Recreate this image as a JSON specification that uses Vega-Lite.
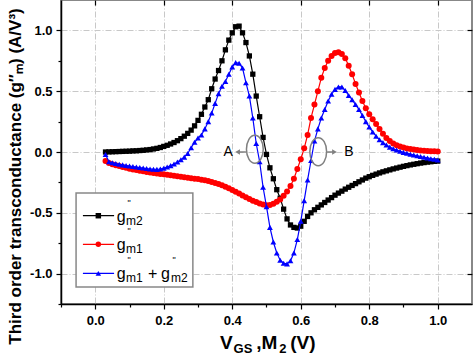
{
"$schema":"https://vega.github.io/schema/vega-lite/v6.json",
"width":411,"height":304,
"autosize":"none",
"padding":{"left":61,"top":0,"right":2,"bottom":51},
"background":"white",
"config":{"view":{"stroke":"#888888","strokeWidth":2},"font":"Liberation Sans","axis":{"labelFont":"Liberation Sans","titleFont":"Liberation Sans"}},
"datasets":{
"m2":[
{"x":0.03,"y":0},{"x":0.04,"y":0.001},{"x":0.05,"y":0.002},{"x":0.06,"y":0.003},{"x":0.07,"y":0.004},{"x":0.08,"y":0.005},{"x":0.09,"y":0.006},{"x":0.10,"y":0.007},{"x":0.11,"y":0.009},{"x":0.12,"y":0.010},{"x":0.13,"y":0.012},{"x":0.14,"y":0.014},{"x":0.15,"y":0.017},{"x":0.16,"y":0.020},{"x":0.17,"y":0.025},{"x":0.18,"y":0.030},{"x":0.19,"y":0.037},{"x":0.20,"y":0.046},{"x":0.21,"y":0.055},{"x":0.22,"y":0.066},{"x":0.23,"y":0.078},{"x":0.24,"y":0.093},{"x":0.25,"y":0.110},{"x":0.26,"y":0.130},{"x":0.27,"y":0.153},{"x":0.28,"y":0.180},{"x":0.29,"y":0.215},{"x":0.30,"y":0.26},{"x":0.31,"y":0.31},{"x":0.32,"y":0.37},{"x":0.33,"y":0.43},{"x":0.34,"y":0.52},{"x":0.35,"y":0.60},{"x":0.36,"y":0.67},{"x":0.37,"y":0.75},{"x":0.38,"y":0.84},{"x":0.39,"y":0.92},{"x":0.40,"y":0.98},{"x":0.41,"y":1.03},{"x":0.42,"y":1.035},{"x":0.43,"y":0.98},{"x":0.44,"y":0.90},{"x":0.45,"y":0.79},{"x":0.46,"y":0.64},{"x":0.47,"y":0.46},{"x":0.48,"y":0.29},{"x":0.49,"y":0.12},{"x":0.50,"y":-0.02},{"x":0.51,"y":-0.13},{"x":0.52,"y":-0.22},{"x":0.53,"y":-0.31},{"x":0.54,"y":-0.38},{"x":0.55,"y":-0.47},{"x":0.56,"y":-0.55},{"x":0.57,"y":-0.60},{"x":0.58,"y":-0.62},{"x":0.59,"y":-0.625},{"x":0.60,"y":-0.61},{"x":0.61,"y":-0.57},{"x":0.62,"y":-0.53},{"x":0.63,"y":-0.50},{"x":0.64,"y":-0.475},{"x":0.65,"y":-0.455},{"x":0.66,"y":-0.435},{"x":0.67,"y":-0.415},{"x":0.68,"y":-0.395},{"x":0.69,"y":-0.375},{"x":0.70,"y":-0.355},{"x":0.71,"y":-0.338},{"x":0.72,"y":-0.322},{"x":0.73,"y":-0.305},{"x":0.74,"y":-0.29},{"x":0.75,"y":-0.275},{"x":0.76,"y":-0.26},{"x":0.77,"y":-0.245},{"x":0.78,"y":-0.23},{"x":0.79,"y":-0.215},{"x":0.80,"y":-0.203},{"x":0.81,"y":-0.192},{"x":0.82,"y":-0.182},{"x":0.83,"y":-0.172},{"x":0.84,"y":-0.163},{"x":0.85,"y":-0.155},{"x":0.86,"y":-0.147},{"x":0.87,"y":-0.139},{"x":0.88,"y":-0.132},{"x":0.89,"y":-0.125},{"x":0.90,"y":-0.118},{"x":0.91,"y":-0.112},{"x":0.92,"y":-0.106},{"x":0.93,"y":-0.101},{"x":0.94,"y":-0.096},{"x":0.95,"y":-0.091},{"x":0.96,"y":-0.087},{"x":0.97,"y":-0.083},{"x":0.98,"y":-0.080},{"x":0.99,"y":-0.077},{"x":1.00,"y":-0.075}
],
"m1":[
{"x":0.03,"y":-0.075},{"x":0.04,"y":-0.09},{"x":0.05,"y":-0.10},{"x":0.06,"y":-0.108},{"x":0.07,"y":-0.116},{"x":0.08,"y":-0.123},{"x":0.09,"y":-0.130},{"x":0.10,"y":-0.137},{"x":0.11,"y":-0.143},{"x":0.12,"y":-0.149},{"x":0.13,"y":-0.154},{"x":0.14,"y":-0.159},{"x":0.15,"y":-0.164},{"x":0.16,"y":-0.168},{"x":0.17,"y":-0.172},{"x":0.18,"y":-0.176},{"x":0.19,"y":-0.180},{"x":0.20,"y":-0.184},{"x":0.21,"y":-0.188},{"x":0.22,"y":-0.192},{"x":0.23,"y":-0.196},{"x":0.24,"y":-0.200},{"x":0.25,"y":-0.204},{"x":0.26,"y":-0.207},{"x":0.27,"y":-0.211},{"x":0.28,"y":-0.215},{"x":0.29,"y":-0.219},{"x":0.30,"y":-0.223},{"x":0.31,"y":-0.228},{"x":0.32,"y":-0.233},{"x":0.33,"y":-0.239},{"x":0.34,"y":-0.246},{"x":0.35,"y":-0.254},{"x":0.36,"y":-0.263},{"x":0.37,"y":-0.273},{"x":0.38,"y":-0.285},{"x":0.39,"y":-0.298},{"x":0.40,"y":-0.312},{"x":0.41,"y":-0.327},{"x":0.42,"y":-0.342},{"x":0.43,"y":-0.357},{"x":0.44,"y":-0.372},{"x":0.45,"y":-0.387},{"x":0.46,"y":-0.400},{"x":0.47,"y":-0.412},{"x":0.48,"y":-0.423},{"x":0.49,"y":-0.432},{"x":0.50,"y":-0.438},{"x":0.51,"y":-0.436},{"x":0.52,"y":-0.425},{"x":0.53,"y":-0.41},{"x":0.54,"y":-0.39},{"x":0.55,"y":-0.36},{"x":0.56,"y":-0.325},{"x":0.57,"y":-0.28},{"x":0.58,"y":-0.22},{"x":0.59,"y":-0.14},{"x":0.60,"y":-0.06},{"x":0.61,"y":0.03},{"x":0.62,"y":0.14},{"x":0.63,"y":0.28},{"x":0.64,"y":0.39},{"x":0.65,"y":0.50},{"x":0.66,"y":0.61},{"x":0.67,"y":0.69},{"x":0.68,"y":0.75},{"x":0.69,"y":0.79},{"x":0.70,"y":0.815},{"x":0.71,"y":0.82},{"x":0.72,"y":0.805},{"x":0.73,"y":0.77},{"x":0.74,"y":0.71},{"x":0.75,"y":0.64},{"x":0.76,"y":0.56},{"x":0.77,"y":0.49},{"x":0.78,"y":0.42},{"x":0.79,"y":0.36},{"x":0.80,"y":0.31},{"x":0.81,"y":0.27},{"x":0.82,"y":0.23},{"x":0.83,"y":0.19},{"x":0.84,"y":0.15},{"x":0.85,"y":0.115},{"x":0.86,"y":0.09},{"x":0.87,"y":0.07},{"x":0.88,"y":0.056},{"x":0.89,"y":0.045},{"x":0.90,"y":0.036},{"x":0.91,"y":0.029},{"x":0.92,"y":0.024},{"x":0.93,"y":0.02},{"x":0.94,"y":0.016},{"x":0.95,"y":0.013},{"x":0.96,"y":0.011},{"x":0.97,"y":0.009},{"x":0.98,"y":0.007},{"x":0.99,"y":0.006},{"x":1.00,"y":0.005}
],
"sum":[
{"x":0.03,"y":-0.02},{"x":0.04,"y":-0.08},{"x":0.05,"y":-0.088},{"x":0.06,"y":-0.095},{"x":0.07,"y":-0.101},{"x":0.08,"y":-0.106},{"x":0.09,"y":-0.111},{"x":0.10,"y":-0.115},{"x":0.11,"y":-0.119},{"x":0.12,"y":-0.124},{"x":0.13,"y":-0.128},{"x":0.14,"y":-0.132},{"x":0.15,"y":-0.136},{"x":0.16,"y":-0.139},{"x":0.17,"y":-0.142},{"x":0.18,"y":-0.143},{"x":0.19,"y":-0.140},{"x":0.20,"y":-0.133},{"x":0.21,"y":-0.124},{"x":0.22,"y":-0.112},{"x":0.23,"y":-0.099},{"x":0.24,"y":-0.083},{"x":0.25,"y":-0.064},{"x":0.26,"y":-0.042},{"x":0.27,"y":-0.012},{"x":0.28,"y":0.035},{"x":0.29,"y":0.08},{"x":0.30,"y":0.115},{"x":0.31,"y":0.14},{"x":0.32,"y":0.19},{"x":0.33,"y":0.25},{"x":0.34,"y":0.32},{"x":0.35,"y":0.40},{"x":0.36,"y":0.48},{"x":0.37,"y":0.54},{"x":0.38,"y":0.58},{"x":0.39,"y":0.64},{"x":0.40,"y":0.70},{"x":0.41,"y":0.735},{"x":0.42,"y":0.73},{"x":0.43,"y":0.69},{"x":0.44,"y":0.57},{"x":0.45,"y":0.46},{"x":0.46,"y":0.28},{"x":0.47,"y":0.07},{"x":0.48,"y":-0.08},{"x":0.49,"y":-0.29},{"x":0.50,"y":-0.45},{"x":0.51,"y":-0.62},{"x":0.52,"y":-0.74},{"x":0.53,"y":-0.83},{"x":0.54,"y":-0.89},{"x":0.55,"y":-0.915},{"x":0.56,"y":-0.92},{"x":0.57,"y":-0.895},{"x":0.58,"y":-0.83},{"x":0.59,"y":-0.72},{"x":0.60,"y":-0.57},{"x":0.61,"y":-0.40},{"x":0.62,"y":-0.23},{"x":0.63,"y":-0.07},{"x":0.64,"y":0.09},{"x":0.65,"y":0.19},{"x":0.66,"y":0.28},{"x":0.67,"y":0.35},{"x":0.68,"y":0.42},{"x":0.69,"y":0.475},{"x":0.70,"y":0.515},{"x":0.71,"y":0.535},{"x":0.72,"y":0.535},{"x":0.73,"y":0.505},{"x":0.74,"y":0.465},{"x":0.75,"y":0.43},{"x":0.76,"y":0.39},{"x":0.77,"y":0.35},{"x":0.78,"y":0.30},{"x":0.79,"y":0.25},{"x":0.80,"y":0.205},{"x":0.81,"y":0.165},{"x":0.82,"y":0.13},{"x":0.83,"y":0.10},{"x":0.84,"y":0.077},{"x":0.85,"y":0.057},{"x":0.86,"y":0.04},{"x":0.87,"y":0.027},{"x":0.88,"y":0.016},{"x":0.89,"y":0.006},{"x":0.90,"y":-0.003},{"x":0.91,"y":-0.011},{"x":0.92,"y":-0.018},{"x":0.93,"y":-0.025},{"x":0.94,"y":-0.031},{"x":0.95,"y":-0.037},{"x":0.96,"y":-0.043},{"x":0.97,"y":-0.049},{"x":0.98,"y":-0.055},{"x":0.99,"y":-0.06},{"x":1.00,"y":-0.065}
],
"leg":[{"s":"m2","y":-0.524},{"s":"m1","y":-0.759},{"s":"sum","y":-0.998}],
"legBig":[{"t":"g","x":0.0626,"y":-0.524},{"t":"g","x":0.0626,"y":-0.759},{"t":"g","x":0.0626,"y":-0.998},{"t":"+","x":0.154,"y":-0.998},{"t":"g","x":0.192,"y":-0.998}],
"legSub":[{"t":"m2","x":0.090,"y":-0.524},{"t":"m1","x":0.090,"y":-0.759},{"t":"m1","x":0.090,"y":-0.998},{"t":"m2","x":0.221,"y":-0.998}],
"legPrime":[{"t":"\"","x":0.0985,"y":-0.524},{"t":"\"","x":0.0985,"y":-0.759},{"t":"\"","x":0.0985,"y":-0.998},{"t":"\"","x":0.23,"y":-0.998}],
"xtBig":[{"t":"V","x":0.364},{"t":",M","x":0.470},{"t":"(V)","x":0.569}],
"xtSub":[{"t":"GS","x":0.404},{"t":"2","x":0.537}],
"ann":[{"k":"A","ex":0.466,"ey":0.022,"ax":0.4156,"ax2":0.44,"lx":0.388},{"k":"B","ex":0.651,"ey":0.003,"ax":0.6985,"ax2":0.677,"lx":0.741}]
},
"resolve":{"axis":{"x":"independent","y":"independent"},"scale":{"shape":"independent","color":"independent"}},
"layer":[
{"data":{"name":"m2"},
 "mark":{"type":"line","color":"black","strokeWidth":1.2,"point":{"filled":true,"shape":"square","size":28,"color":"black"}},
 "encoding":{
  "x":{"field":"x","type":"quantitative","scale":{"domain":[-0.1,1.1],"nice":false,"zero":false},
   "axis":{"orient":"bottom","values":[0,0.2,0.4,0.6,0.8,1],"labelExpr":"replace(format(datum.value,'.1f'),'\u2212','-')","labelFontWeight":"bold","labelFontSize":13,"labelColor":"black","labelPadding":5,"tickSize":5,"tickColor":"black","tickWidth":1.2,"domainColor":"black","domainWidth":1.5,"grid":true,"gridColor":"#c8c8c8","gridDash":[6,2,1,2],"gridWidth":1,"title":null}},
  "y":{"field":"y","type":"quantitative","scale":{"domain":[-1.25,1.25],"nice":false,"zero":false},
   "axis":{"orient":"left","values":[-1,-0.5,0,0.5,1],"labelExpr":"replace(format(datum.value,'.1f'),'\u2212','-')","labelFontWeight":"bold","labelFontSize":13,"labelColor":"black","labelPadding":4,"tickSize":5,"tickColor":"black","tickWidth":1.2,"domainColor":"black","domainWidth":1.5,"grid":true,"gridColor":"#c8c8c8","gridDash":[6,2,1,2],"gridWidth":1,
    "title":"Third order transconductance  (g″ₘ) (A/V³)","titleFontSize":17,"titleFontWeight":"bold","titleColor":"black","titleX":-46,"titleY":176,"titleBaseline":"middle","titleAngle":270}}
 }},
{"data":{"name":"m1"},
 "mark":{"type":"line","color":"red","strokeWidth":1.2,"point":{"filled":true,"shape":"circle","size":36,"color":"red"}},
 "encoding":{
  "x":{"field":"x","type":"quantitative","axis":{"orient":"top","values":[0,0.2,0.4,0.6,0.8,1],"labels":false,"domain":false,"grid":false,"tickSize":-5,"tickColor":"black","tickWidth":1.2,"title":null}},
  "y":{"field":"y","type":"quantitative","axis":{"orient":"right","values":[-1,-0.5,0,0.5,1],"labels":false,"domain":false,"grid":false,"tickSize":-5,"tickColor":"black","tickWidth":1.2,"title":null}}
 }},
{"data":{"name":"sum"},
 "mark":{"type":"line","color":"blue","strokeWidth":1.2,"point":{"filled":true,"shape":"triangle-up","size":34,"color":"blue"}},
 "encoding":{
  "x":{"field":"x","type":"quantitative","axis":{"orient":"bottom","values":[-0.1,0.1,0.3,0.5,0.7,0.9],"labels":false,"domain":false,"grid":false,"tickSize":3,"tickColor":"black","tickWidth":1.2,"title":null}},
  "y":{"field":"y","type":"quantitative","axis":{"orient":"left","values":[-1.25,-0.75,-0.25,0.25,0.75],"labels":false,"domain":false,"grid":false,"tickSize":3,"tickColor":"black","tickWidth":1.2,"title":null}}
 }},
{"data":{"values":[{}]},
 "mark":{"type":"rect","fill":"white","stroke":"#888888","strokeWidth":1.5},
 "encoding":{"x":{"datum":-0.056,"type":"quantitative","axis":null},"x2":{"datum":0.285},"y":{"datum":-0.337,"type":"quantitative","axis":null},"y2":{"datum":-1.11}}},
{"data":{"name":"leg"},
 "mark":{"type":"rule","strokeWidth":1.2},
 "encoding":{"x":{"datum":-0.036,"type":"quantitative","axis":null},"x2":{"datum":0.055},"y":{"field":"y","type":"quantitative","axis":null},
  "color":{"field":"s","type":"nominal","scale":{"domain":["m2","m1","sum"],"range":["black","red","blue"]},"legend":null}}},
{"data":{"name":"leg"},
 "mark":{"type":"point","filled":true,"size":30,"opacity":1},
 "encoding":{"x":{"datum":0.009,"type":"quantitative","axis":null},"y":{"field":"y","type":"quantitative","axis":null},
  "color":{"field":"s","type":"nominal","scale":{"domain":["m2","m1","sum"],"range":["black","red","blue"]},"legend":null},
  "shape":{"field":"s","type":"nominal","scale":{"domain":["m2","m1","sum"],"range":["square","circle","triangle-up"]},"legend":null}}},
{"data":{"name":"legBig"},
 "mark":{"type":"text","align":"left","baseline":"alphabetic","dy":6,"fontSize":16,"font":"Liberation Sans","color":"black"},
 "encoding":{"x":{"field":"x","type":"quantitative","axis":null},"y":{"field":"y","type":"quantitative","axis":null},"text":{"field":"t"}}},
{"data":{"name":"legSub"},
 "mark":{"type":"text","align":"left","baseline":"alphabetic","dy":9,"fontSize":12,"font":"Liberation Sans","color":"black"},
 "encoding":{"x":{"field":"x","type":"quantitative","axis":null},"y":{"field":"y","type":"quantitative","axis":null},"text":{"field":"t"}}},
{"data":{"name":"legPrime"},
 "mark":{"type":"text","align":"center","baseline":"alphabetic","dy":-10,"fontSize":9,"font":"Liberation Sans","color":"black"},
 "encoding":{"x":{"field":"x","type":"quantitative","axis":null},"y":{"field":"y","type":"quantitative","axis":null},"text":{"field":"t"}}},
{"data":{"name":"xtBig"},
 "mark":{"type":"text","align":"left","baseline":"alphabetic","fontSize":19,"fontWeight":"bold","font":"Liberation Sans","color":"black"},
 "encoding":{"x":{"field":"x","type":"quantitative","axis":null},"y":{"datum":-1.62,"type":"quantitative","axis":null},"text":{"field":"t"}}},
{"data":{"name":"xtSub"},
 "mark":{"type":"text","align":"left","baseline":"alphabetic","fontSize":13,"fontWeight":"bold","font":"Liberation Sans","color":"black"},
 "encoding":{"x":{"field":"x","type":"quantitative","axis":null},"y":{"datum":-1.653,"type":"quantitative","axis":null},"text":{"field":"t"}}},
{"data":{"name":"ann"},
 "mark":{"type":"point","shape":"M0,-1A0.6,1,0,1,1,0,1A0.6,1,0,1,1,0,-1Z","filled":false,"stroke":"#808080","strokeWidth":1.5,"size":784,"opacity":1},
 "encoding":{"x":{"field":"ex","type":"quantitative","axis":null},"y":{"field":"ey","type":"quantitative","axis":null}}},
{"data":{"name":"ann"},
 "mark":{"type":"rule","color":"#808080","strokeWidth":1.5},
 "encoding":{"x":{"field":"ax","type":"quantitative","axis":null},"x2":{"field":"ax2"},"y":{"datum":0,"type":"quantitative","axis":null}}},
{"data":{"name":"ann"},
 "mark":{"type":"point","filled":true,"size":30,"color":"#808080","opacity":1},
 "encoding":{"x":{"field":"ax","type":"quantitative","axis":null},"y":{"datum":0,"type":"quantitative","axis":null},
  "shape":{"field":"k","type":"nominal","scale":{"domain":["A","B"],"range":["triangle-left","triangle-right"]},"legend":null}}},
{"data":{"name":"ann"},
 "mark":{"type":"text","align":"center","baseline":"middle","fontSize":14,"font":"Liberation Sans","color":"black"},
 "encoding":{"x":{"field":"lx","type":"quantitative","axis":null},"y":{"datum":0,"type":"quantitative","axis":null},"text":{"field":"k"}}}
]
}
